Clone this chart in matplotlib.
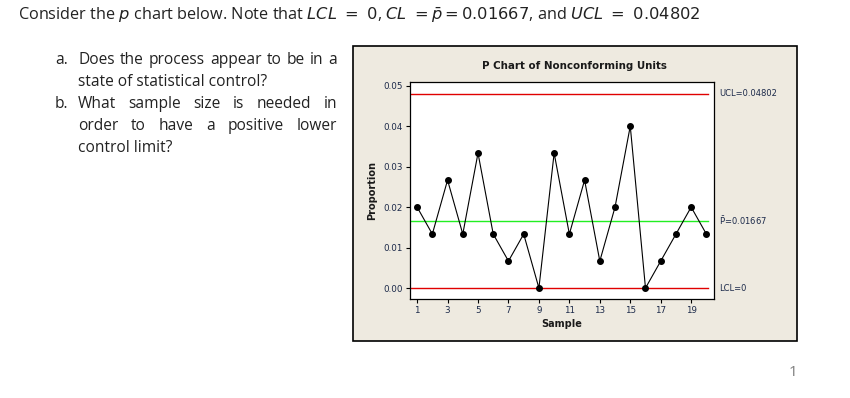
import matplotlib
matplotlib.use("Agg")
import matplotlib.pyplot as plt
from matplotlib.patches import Rectangle

# ---- data ----
samples = list(range(1, 21))
proportion = [0.02, 0.013333, 0.026667, 0.013333, 0.033333, 0.013333, 0.006667, 0.013333, 0.0,
              0.033333, 0.013333, 0.026667, 0.006667, 0.02, 0.04, 0.0, 0.006667, 0.013333, 0.02, 0.013333]
ucl = 0.04802
center = 0.01667
lcl = 0.0
yticks = [0.00, 0.01, 0.02, 0.03, 0.04, 0.05]
ytick_labels = ["0.00", "0.01", "0.02", "0.03", "0.04", "0.05"]
xticks = [1, 3, 5, 7, 9, 11, 13, 15, 17, 19]

W, H = 850, 398
fig = plt.figure(figsize=(W / 100, H / 100), dpi=100)
fig.patch.set_facecolor("white")

def fx(px):
    return px / W

def fy(py):
    return 1 - py / H

body_font = "Open Sans"
txt_color = "#222222"

# header line
fig.text(fx(18), fy(15),
         r"Consider the $p$ chart below. Note that $LCL\ =\ 0$, $CL\ = \bar{p} = 0.01667$, and $UCL\ =\ 0.04802$",
         fontsize=11.7, family=body_font, color=txt_color, va="center", ha="left")

# question text
fig.canvas.draw()
renderer = fig.canvas.get_renderer()

def justified(line, x0, x1, y, fs=11.2):
    words = line.split()
    objs = [fig.text(0, fy(y), w, fontsize=fs, family=body_font, color=txt_color, va="center") for w in words]
    widths = [o.get_window_extent(renderer).width for o in objs]
    gap = (x1 - x0 - sum(widths)) / (len(words) - 1)
    x = x0
    for o, w in zip(objs, widths):
        o.set_x(fx(x))
        x += w + gap

def plain(line, x0, y, fs=11.2):
    fig.text(fx(x0), fy(y), line, fontsize=fs, family=body_font, color=txt_color, va="center")

plain("a.", 55, 60)
justified("Does the process appear to be in a", 78, 337, 60)
plain("state of statistical control?", 78, 82)
plain("b.", 55, 104)
justified("What sample size is needed in", 78, 337, 104)
justified("order to have a positive lower", 78, 337, 126)
plain("control limit?", 78, 148)

# page number
fig.text(fx(793), fy(373), "1", fontsize=11, family=body_font, color="#7f7f7f", va="center", ha="center")

# panel background
panel = Rectangle((fx(353), fy(340.5)), fx(797) - fx(353), fy(45.5) - fy(340.5),
                  transform=fig.transFigure, facecolor="#EEEAE0", edgecolor="black", lw=1.2, zorder=-5)
fig.patches.append(panel)

# axes
ax = fig.add_axes([fx(409.5), fy(299), fx(714) - fx(409.5), fy(82) - fy(299)])
ax.set_zorder(2)
ax.set_facecolor("white")
ax.set_xlim(0.5, 20.5)
ax.set_ylim(-0.0027, 0.0509)

tick_col = "#1c2a4a"
ax.plot([0.6, 20.1], [ucl, ucl], color="#e00000", lw=1.0, zorder=2)
ax.plot([0.6, 20.1], [center, center], color="#22ee22", lw=1.0, zorder=2)
ax.plot([0.6, 20.1], [lcl, lcl], color="#e00000", lw=1.0, zorder=2)
ax.plot(samples, proportion, color="black", lw=0.8, marker="o", markersize=4, zorder=3)

ax.set_yticks(yticks)
ax.set_yticklabels(ytick_labels)
ax.set_xticks(xticks)
ax.tick_params(axis="both", direction="out", length=3, width=0.8, labelsize=6.3, labelcolor=tick_col, pad=2)
for s in ax.spines.values():
    s.set_linewidth(0.9)
for lab in ax.get_xticklabels() + ax.get_yticklabels():
    lab.set_fontfamily("DejaVu Sans")

ax.set_xlabel("Sample", fontsize=7, fontweight="bold", color="#1a1a1a", labelpad=3)
ax.set_ylabel("Proportion", fontsize=7, fontweight="bold", color="#1a1a1a", labelpad=4)

fig.text(fx(574), fy(66), "P Chart of Nonconforming Units", fontsize=7.4, fontweight="bold",
         ha="center", va="center", color="#1a1a1a", family="DejaVu Sans")

# right labels
lab_col = "#1c2a4a"
ax.annotate("UCL=0.04802", xy=(1, ucl), xycoords=("axes fraction", "data"), xytext=(3.5, 0),
            textcoords="offset points", fontsize=6, color=lab_col, va="center", annotation_clip=False)
ax.annotate(r"$\mathregular{\bar{P}}$=0.01667", xy=(1, center), xycoords=("axes fraction", "data"), xytext=(3.5, 0),
            textcoords="offset points", fontsize=6, color=lab_col, va="center", annotation_clip=False)
ax.annotate("LCL=0", xy=(1, lcl), xycoords=("axes fraction", "data"), xytext=(3.5, 0),
            textcoords="offset points", fontsize=6, color=lab_col, va="center", annotation_clip=False)

fig.savefig("out.png", dpi=100)
